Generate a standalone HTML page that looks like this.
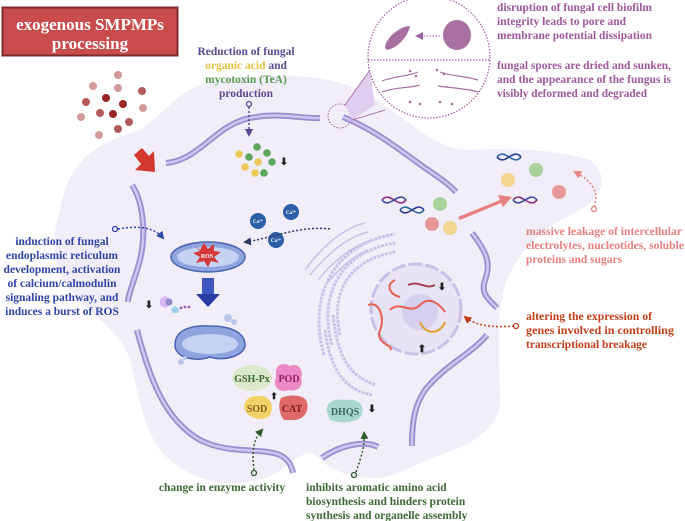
<!DOCTYPE html>
<html><head><meta charset="utf-8"><style>
html,body{margin:0;padding:0;background:#fff;}
svg{display:block;}
text{font-family:"Liberation Serif",serif;font-weight:bold;}
</style></head><body>
<svg width="685" height="521" viewBox="0 0 685 521" xmlns="http://www.w3.org/2000/svg">
<defs>
<marker id="ab" markerWidth="8" markerHeight="8" refX="6" refY="4" orient="auto" markerUnits="userSpaceOnUse"><path d="M0,0 L8,4 L0,8 z" fill="#2f45a8"/></marker>
<marker id="ad" markerWidth="8" markerHeight="8" refX="6" refY="4" orient="auto" markerUnits="userSpaceOnUse"><path d="M0,0 L8,4 L0,8 z" fill="#2d3a66"/></marker>
<marker id="ap" markerWidth="8" markerHeight="8" refX="6" refY="4" orient="auto" markerUnits="userSpaceOnUse"><path d="M0,0 L8,4 L0,8 z" fill="#5b4a92"/></marker>
<marker id="ag" markerWidth="8" markerHeight="8" refX="6" refY="4" orient="auto" markerUnits="userSpaceOnUse"><path d="M0,0 L8,4 L0,8 z" fill="#2f5a2a"/></marker>
<marker id="ar" markerWidth="8" markerHeight="8" refX="6" refY="4" orient="auto" markerUnits="userSpaceOnUse"><path d="M0,0 L8,4 L0,8 z" fill="#c2401a"/></marker>
<marker id="as" markerWidth="8" markerHeight="8" refX="6" refY="4" orient="auto" markerUnits="userSpaceOnUse"><path d="M0,0 L8,4 L0,8 z" fill="#e88080"/></marker>
<marker id="am" markerWidth="8" markerHeight="8" refX="6" refY="4" orient="auto" markerUnits="userSpaceOnUse"><path d="M0,0 L8,4 L0,8 z" fill="#a060a0"/></marker>
</defs>

<!-- cell blob -->
<path d="M60,210 C70,150 110,140 140,130 C170,110 180,85 220,80 C270,74 320,72 360,90 C400,110 430,150 470,150 C520,148 560,150 590,160 C610,175 605,200 570,215 C530,235 515,260 505,285 C495,320 500,360 500,400 C500,430 470,445 440,455 C410,465 395,480 370,478 C345,476 330,470 315,455 C305,445 290,470 265,478 C235,488 200,485 170,460 C145,440 140,400 130,360 C120,330 95,320 70,290 C50,265 52,235 60,210 Z" fill="#f1eef9"/>

<!-- membranes -->
<g fill="none" stroke-linecap="butt">
<g stroke="#9a8cd0" stroke-width="6">
<path d="M166,163 C200,160 215,125 250,118 C280,112 300,119 320,118"/>
<path d="M343,117 C375,130 400,150 425,168 C440,178 450,185 456,192"/>
<path d="M472,233 C485,250 492,262 485,280 C480,295 490,300 497,308"/>
<path d="M132,185 C142,200 147,230 140,260 C133,285 128,295 128,302"/>
<path d="M137,330 C150,380 165,420 200,440 C230,455 260,447 280,455 C290,460 292,468 293,473"/>
<path d="M322,458 C340,445 365,440 378,447"/>
<path d="M412,446 C412,420 415,405 425,390 C445,365 470,355 487,335"/>
</g>
<g stroke="#cfc6f0" stroke-width="2.5">
<path d="M166,163 C200,160 215,125 250,118 C280,112 300,119 320,118"/>
<path d="M343,117 C375,130 400,150 425,168 C440,178 450,185 456,192"/>
<path d="M472,233 C485,250 492,262 485,280 C480,295 490,300 497,308"/>
<path d="M132,185 C142,200 147,230 140,260 C133,285 128,295 128,302"/>
<path d="M137,330 C150,380 165,420 200,440 C230,455 260,447 280,455 C290,460 292,468 293,473"/>
<path d="M322,458 C340,445 365,440 378,447"/>
<path d="M412,446 C412,420 415,405 425,390 C445,365 470,355 487,335"/>
</g>
</g>

<!-- title box -->
<rect x="2.5" y="7.5" width="175" height="48" fill="#c94c4c" stroke="#7d2a2a" stroke-width="2"/>
<text x="90" y="30" font-size="17" fill="#fff" text-anchor="middle">exogenous SMPMPs</text>
<text x="90" y="49" font-size="17" fill="#fff" text-anchor="middle">processing</text>

<!-- red particles -->
<g>
<circle cx="118" cy="75" r="4" fill="#d49a9a"/><circle cx="93" cy="86" r="4" fill="#d49a9a"/>
<circle cx="118" cy="88" r="4" fill="#d49a9a"/><circle cx="142" cy="91" r="4" fill="#b55a5a"/>
<circle cx="86" cy="102" r="4" fill="#b55a5a"/><circle cx="106" cy="98" r="4" fill="#9a2525"/>
<circle cx="123" cy="104" r="4" fill="#9a2525"/><circle cx="100" cy="113" r="4" fill="#b55a5a"/>
<circle cx="113" cy="114" r="4" fill="#9a2525"/><circle cx="143" cy="108" r="4" fill="#d49a9a"/>
<circle cx="81" cy="117" r="4" fill="#d49a9a"/><circle cx="129" cy="122" r="4" fill="#b55a5a"/>
<circle cx="118" cy="129" r="4" fill="#b55a5a"/><circle cx="99" cy="135" r="4" fill="#d49a9a"/>
</g>
<path d="M134,155 L142,148 L149,156 L154,151 L155,172 L135,170 L141,164 Z" fill="#d2382e"/>

<!-- top text -->
<g font-size="11.5" text-anchor="middle">
<text x="246" y="55" fill="#5b4a92">Reduction of fungal</text>
<text x="246" y="69"><tspan fill="#e6c040">organic acid</tspan><tspan fill="#5b4a92"> and</tspan></text>
<text x="246" y="83"><tspan fill="#5a9a50">mycotoxin (TeA)</tspan></text>
<text x="246" y="97" fill="#5b4a92">production</text>
</g>
<circle cx="249" cy="104" r="2.5" fill="none" stroke="#5b4a92" stroke-width="1.3"/>
<line x1="249" y1="107" x2="249" y2="135" stroke="#5b4a92" stroke-width="1.5" stroke-dasharray="2,2" marker-end="url(#ap)"/>
<g>
<circle cx="257" cy="147" r="3.8" fill="#5ea85e"/><circle cx="239" cy="154" r="3.8" fill="#ecc95a"/>
<circle cx="249" cy="157" r="3.8" fill="#5ea85e"/><circle cx="267" cy="153" r="3.8" fill="#5ea85e"/>
<circle cx="258" cy="162" r="3.8" fill="#ecc95a"/><circle cx="272" cy="162" r="3.8" fill="#5ea85e"/>
<circle cx="245" cy="167" r="3.8" fill="#ecc95a"/><circle cx="255" cy="173" r="3.8" fill="#ecc95a"/>
<circle cx="264" cy="173" r="3.8" fill="#5ea85e"/>
</g>
<text x="284" y="165" font-size="10" fill="#222" text-anchor="middle">⬇</text>

<!-- magnifier circle -->
<circle cx="340" cy="116" r="12" fill="none" stroke="#a060a0" stroke-width="1" stroke-dasharray="1.5,1.5"/>
<path d="M345,105 L370,70 L375,105 L352,120 Z" fill="#e0cef0"/>
<line x1="345" y1="105" x2="370" y2="70" stroke="#a060a0" stroke-width="0.8"/>
<line x1="352" y1="120" x2="385" y2="110" stroke="#a060a0" stroke-width="0.8"/>
<circle cx="429" cy="57" r="61" fill="#fff" stroke="#a060a0" stroke-width="1.2" stroke-dasharray="1.5,1.5"/>
<line x1="368" y1="60" x2="490" y2="60" stroke="#a060a0" stroke-width="1.2" stroke-dasharray="1.5,1.5"/>
<path d="M385,48 C385,38 400,26 410,26 C408,36 398,48 387,50 Z" fill="#a870a0"/>
<ellipse cx="457" cy="35" rx="14" ry="15" fill="#a870a0"/>
<line x1="440" y1="36" x2="417" y2="36" stroke="#a060a0" stroke-width="1" stroke-dasharray="1.5,1.5" marker-end="url(#am)"/>
<g stroke="#a870a0" stroke-width="1.2" fill="none">
<path d="M382,81 C395,76 410,76 418,72"/><path d="M382,92 C395,87 410,88 420,85"/>
<path d="M440,72 C450,76 465,76 478,80"/><path d="M438,86 C450,88 465,88 478,92"/>
</g>
<g fill="#a870a0"><circle cx="410" cy="71" r="1.3"/><circle cx="416" cy="76" r="1.3"/><circle cx="437" cy="70" r="1.3"/><circle cx="444" cy="74" r="1.3"/><circle cx="410" cy="102" r="1.3"/><circle cx="420" cy="104" r="1.3"/><circle cx="440" cy="102" r="1.3"/><circle cx="452" cy="104" r="1.3"/></g>

<!-- right top text -->
<g font-size="11.5" fill="#a0579c">
<text x="497" y="11" textLength="155" lengthAdjust="spacingAndGlyphs">disruption of fungal cell biofilm</text>
<text x="497" y="25" textLength="129" lengthAdjust="spacingAndGlyphs">integrity leads to pore and</text>
<text x="497" y="39" textLength="155" lengthAdjust="spacingAndGlyphs">membrane potential dissipation</text>
<text x="497" y="69" textLength="174" lengthAdjust="spacingAndGlyphs">fungal spores are dried and sunken,</text>
<text x="497" y="83" textLength="174" lengthAdjust="spacingAndGlyphs">and the appearance of the fungus is</text>
<text x="497" y="97" textLength="150" lengthAdjust="spacingAndGlyphs">visibly deformed and degraded</text>
</g>

<!-- leakage -->
<g fill="none" stroke-width="1.6">
<path d="M382,200 C390,190 398,210 406,200" stroke="#8a2a7a"/><path d="M382,200 C390,210 398,190 406,200" stroke="#3a4a9a"/>
<path d="M400,210 C408,200 416,220 424,210" stroke="#2a6aa0"/><path d="M400,210 C408,220 416,200 424,210" stroke="#2a3a8a"/>
<path d="M497,157 C505,147 513,167 521,157" stroke="#2a6aa0"/><path d="M497,157 C505,167 513,147 521,157" stroke="#2a3a8a"/>
<path d="M513,200 C521,190 529,210 537,200" stroke="#8a2a7a"/><path d="M513,200 C521,210 529,190 537,200" stroke="#3a4a9a"/>
</g>
<circle cx="440" cy="204" r="7" fill="#a8d49a"/><circle cx="432" cy="224" r="7" fill="#e89898"/><circle cx="450" cy="228" r="7" fill="#f2d890"/>
<circle cx="508" cy="180" r="7" fill="#f2d890"/><circle cx="536" cy="170" r="7" fill="#a8d49a"/><circle cx="559" cy="192" r="7" fill="#e89898"/>
<path d="M458,217 L500,200 L498,195 L512,197 L503,207 L501,203 L460,220 Z" fill="#e88080"/>
<path d="M594,207 C600,190 590,180 575,172" fill="none" stroke="#e88080" stroke-width="1.5" stroke-dasharray="2,2" marker-end="url(#as)"/>
<circle cx="594" cy="209" r="2.5" fill="none" stroke="#e88080" stroke-width="1.3"/>
<g font-size="11.5" fill="#e88080">
<text x="526" y="235" textLength="156" lengthAdjust="spacingAndGlyphs">massive leakage of intercellular</text>
<text x="526" y="249" textLength="158" lengthAdjust="spacingAndGlyphs">electrolytes, nucleotides, soluble</text>
<text x="526" y="263" textLength="96" lengthAdjust="spacingAndGlyphs">proteins and sugars</text>
</g>

<!-- ER / golgi -->
<g fill="none" stroke="#c9c0e6" stroke-width="1.5">
<path d="M305,270 C330,235 355,225 365,223"/><path d="M310,275 C335,245 355,235 368,232"/>
<path d="M318,280 C338,255 360,243 372,240"/><path d="M328,282 C345,262 360,253 368,250"/>
</g>
<g fill="none" stroke="#cbc2ea" stroke-width="3" stroke-dasharray="3,1">
<path d="M340,335 C330,290 350,260 395,252"/><path d="M332,345 C318,295 340,252 395,243"/>
<path d="M324,355 C308,300 330,245 395,234"/><path d="M333,315 C338,360 350,375 375,385"/>
<path d="M325,330 C330,370 345,390 372,395"/>
</g>
<!-- nucleus -->
<circle cx="416" cy="309" r="45" fill="#e8e3f5" stroke="#c8c0e6" stroke-width="3" stroke-dasharray="14,3"/>
<circle cx="420" cy="312" r="18" fill="#d6d0ee"/>
<g fill="none" stroke-width="2">
<path d="M395,280 C385,285 390,295 400,297" stroke="#e86050"/>
<path d="M368,305 C380,300 385,320 380,330 C375,345 395,345 390,350" stroke="#e86050"/>
<path d="M390,310 C400,300 410,315 420,305 C430,295 440,305 445,312" stroke="#e86050"/>
<path d="M408,285 C420,280 425,290 435,285" stroke="#a84050"/>
<path d="M420,322 C425,335 440,335 445,322" stroke="#e0a030"/>
</g>
<text x="442" y="290" font-size="10" fill="#222" text-anchor="middle">⬇</text>
<text x="422" y="352" font-size="10" fill="#222" text-anchor="middle">⬆</text>
<path d="M514,326 C490,328 475,325 465,317" fill="none" stroke="#c2401a" stroke-width="1.5" stroke-dasharray="2,2" marker-end="url(#ar)"/>
<circle cx="516" cy="326" r="2.5" fill="none" stroke="#c2401a" stroke-width="1.3"/>
<g font-size="11.5" fill="#c2401a">
<text x="526" y="320" textLength="126" lengthAdjust="spacingAndGlyphs">altering the expression of</text>
<text x="526" y="334" textLength="148" lengthAdjust="spacingAndGlyphs">genes involved in controlling</text>
<text x="526" y="348" textLength="121" lengthAdjust="spacingAndGlyphs">transcriptional breakage</text>
</g>

<!-- left blue text -->
<g font-size="11.5" fill="#2f45a8" text-anchor="middle">
<text x="62" y="245">induction of fungal</text>
<text x="62" y="259">endoplasmic reticulum</text>
<text x="62" y="273">development, activation</text>
<text x="62" y="287">of calcium/calmodulin</text>
<text x="62" y="301">signaling pathway, and</text>
<text x="62" y="315">induces a burst of ROS</text>
</g>
<circle cx="115" cy="229" r="2.5" fill="none" stroke="#2f45a8" stroke-width="1.3"/>
<path d="M118,229 C140,225 155,228 163,238" fill="none" stroke="#2f45a8" stroke-width="1.5" stroke-dasharray="2,2" marker-end="url(#ab)"/>

<!-- Ca -->
<g fill="#2d5fa8"><circle cx="258" cy="221" r="8"/><circle cx="291" cy="212" r="8"/><circle cx="276" cy="240" r="8"/></g>
<g font-size="5" fill="#fff" text-anchor="middle" font-weight="normal"><text x="258" y="223">Ca²⁺</text><text x="291" y="214">Ca²⁺</text><text x="276" y="242">Ca²⁺</text></g>
<path d="M330,229 C300,225 265,240 245,242" fill="none" stroke="#2d3a66" stroke-width="1.5" stroke-dasharray="2,2" marker-end="url(#ad)"/>

<!-- mitochondria -->
<ellipse cx="208" cy="257" rx="37" ry="15" fill="#8ea4de" stroke="#4a62b0" stroke-width="1.5"/>
<ellipse cx="208" cy="257" rx="31" ry="10" fill="#c6d2f2"/>
<path d="M195,246 L200,250 L204,243 L208,249 L214,244 L214,251 L221,252 L214,257 L219,263 L211,261 L208,267 L204,261 L196,263 L200,257 L193,253 L200,251 Z" fill="#d43838"/>
<text x="207" y="258" font-size="6" fill="#fff" text-anchor="middle" font-family="Liberation Sans">ROS</text>
<rect x="202" y="278" width="12" height="17" fill="#3e56c0"/>
<path d="M196,294 L220,294 L208,307 Z" fill="#2a3ea8"/>
<path d="M175,345 C175,330 190,325 210,326 C235,326 245,335 245,345 C245,355 225,362 210,357 C195,362 175,358 175,345 Z" fill="#8ea4de" stroke="#4a62b0" stroke-width="1.5"/>
<ellipse cx="210" cy="344" rx="28" ry="10" fill="#c6d2f2"/>
<g fill="#b8c6ec"><circle cx="228" cy="318" r="4"/><circle cx="234" cy="322" r="3"/><circle cx="181" cy="362" r="3"/><circle cx="185" cy="358" r="2"/></g>
<text x="149" y="308" font-size="10" fill="#222" text-anchor="middle">⬇</text>
<polygon points="160,299 165,296 170,299 170,305 165,308 160,305" fill="#d8b8f0"/>
<circle cx="169" cy="302" r="3.5" fill="#9088c8"/>
<polygon points="171,309 175,306 179,309 178,313 173,313" fill="#9cd0ee"/>
<g fill="#a070c0"><circle cx="181" cy="308" r="1.5"/><circle cx="185" cy="307" r="1.5"/><circle cx="189" cy="307" r="1.5"/></g>

<!-- enzymes -->
<ellipse cx="252" cy="378" rx="20" ry="13" fill="#dbe8cc"/>
<path d="M276,372 C276,364 284,362 290,366 C298,362 304,370 301,378 C304,388 296,392 288,390 C280,394 272,386 276,378 Z" fill="#ec8ac8"/>
<path d="M244,408 C244,398 252,395 262,396 C272,398 274,408 270,415 C265,422 248,420 244,408 Z" fill="#f2d36a"/>
<path d="M281,398 C290,394 302,395 306,400 C310,408 306,418 296,420 L284,420 C279,414 278,404 281,398 Z" fill="#e06868"/>
<g font-size="10" text-anchor="middle" font-weight="normal">
<text x="252" y="382" fill="#3d6a35">GSH-Px</text>
<text x="289" y="382" fill="#9a2060">POD</text>
<text x="257" y="412" fill="#8a6020">SOD</text>
<text x="292" y="412" fill="#7a2020">CAT</text>
</g>
<text x="274" y="399" font-size="9" fill="#222" text-anchor="middle">⬆</text>
<path d="M327,412 C325,402 335,398 345,400 C358,398 365,405 362,414 C360,423 340,424 330,420 Z" fill="#a8d8cc"/>
<text x="345" y="415" font-size="10" fill="#3a6a60" text-anchor="middle" font-weight="normal">DHQS</text>
<text x="372" y="412" font-size="10" fill="#222" text-anchor="middle">⬇</text>

<!-- bottom arrows -->
<circle cx="254" cy="473" r="2.5" fill="none" stroke="#2f5a2a" stroke-width="1.3"/>
<path d="M254,470 C252,450 253,440 262,430" fill="none" stroke="#2f5a2a" stroke-width="1.5" stroke-dasharray="2,2" marker-end="url(#ag)"/>
<circle cx="354" cy="475" r="2.5" fill="none" stroke="#2f5a2a" stroke-width="1.3"/>
<path d="M356,472 C362,455 365,445 364,433" fill="none" stroke="#2f5a2a" stroke-width="1.5" stroke-dasharray="2,2" marker-end="url(#ag)"/>
<g font-size="11.5" fill="#3d6a35">
<text x="222" y="491" text-anchor="middle">change in enzyme activity</text>
<text x="306" y="491">inhibits aromatic amino acid</text>
<text x="306" y="505">biosynthesis and hinders protein</text>
<text x="306" y="519">synthesis and organelle assembly</text>
</g>
</svg>
</body></html>
